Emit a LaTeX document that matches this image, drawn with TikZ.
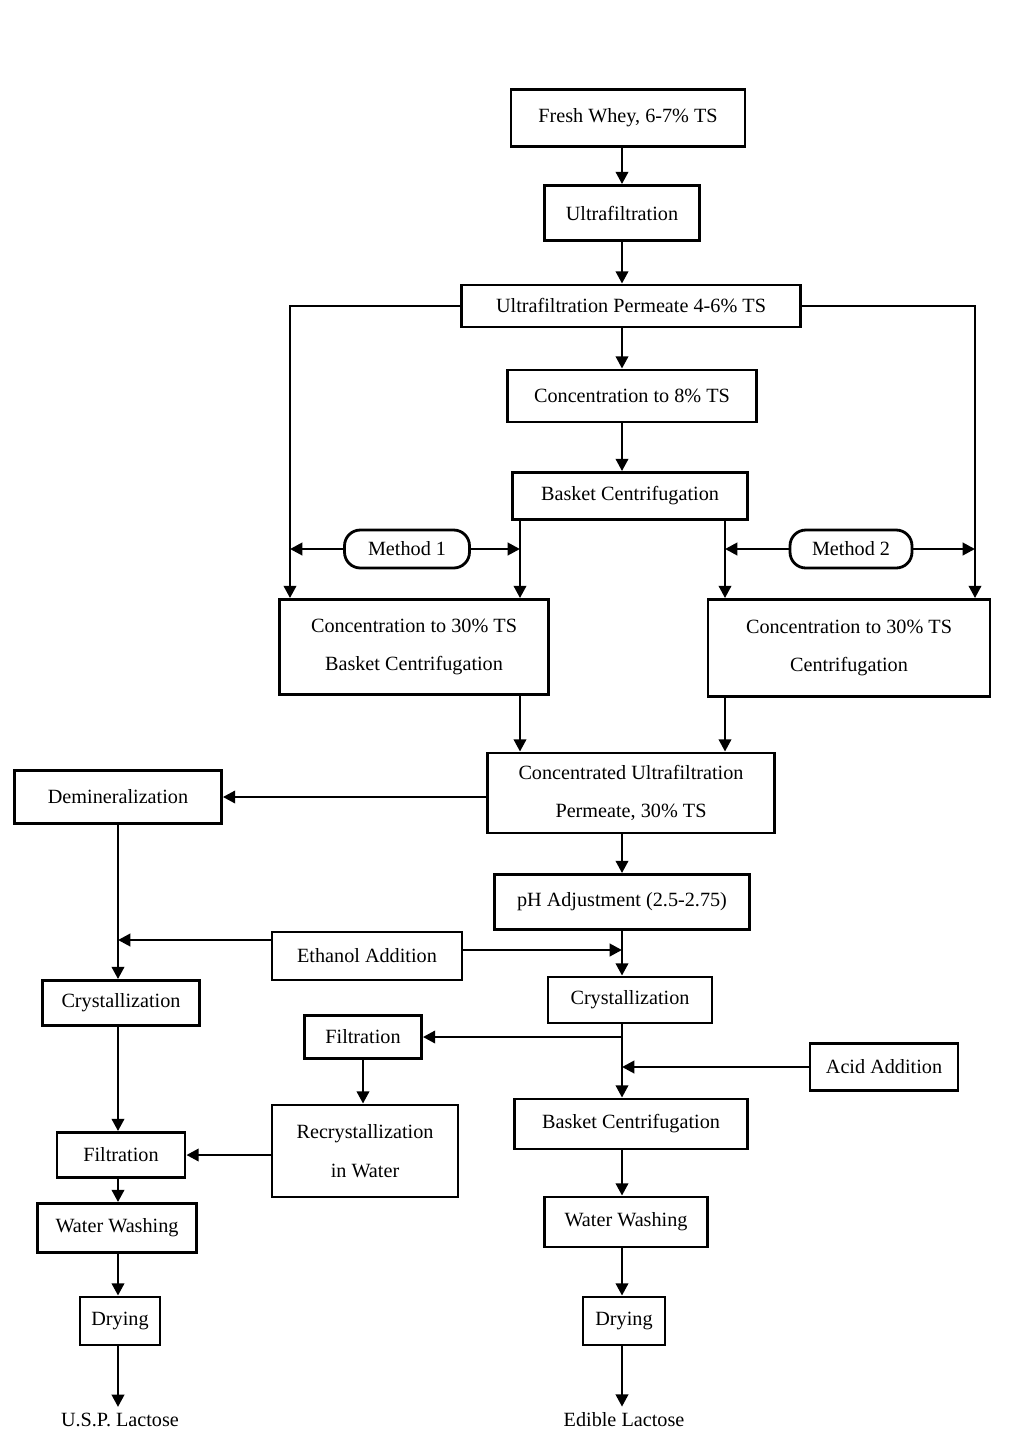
\documentclass[tikz,border=0pt]{standalone}
\usepackage{fontspec}
\setmainfont{Liberation Serif}
\usetikzlibrary{arrows.meta,positioning}
\tikzset{
  box/.style={draw=black, line width=1.6pt, fill=white, inner sep=0pt, align=center,
    font=\fontsize{11.5}{13}\selectfont},
  method/.style={box, rounded corners=9pt},
  arrow/.style={line width=1.6pt, -{Triangle[length=7pt,width=7pt]}},
  line/.style={line width=1.6pt},
  product/.style={font=\fontsize{11.5}{13}\selectfont}
}
\begin{document}
\begin{tikzpicture}[x=0.02cm,y=-0.02cm]
  \useasboundingbox (0,0) rectangle (1012,1450);

  % main column
  \node[box, minimum width=4.68cm, minimum height=1.14cm] (fresh) at (628,118) {Fresh Whey, 6-7\% TS};
  \node[box, minimum width=3.1cm, minimum height=1.1cm] (ultra) at (622,213) {Ultrafiltration};
  \node[box, minimum width=6.78cm, minimum height=0.84cm] (perm) at (631,306) {Ultrafiltration Permeate 4-6\% TS};
  \node[box, minimum width=4.98cm, minimum height=1.04cm] (conc8) at (632,396) {Concentration to 8\% TS};
  \node[box, minimum width=4.7cm, minimum height=0.94cm] (basket) at (630,496) {Basket Centrifugation};

  % methods
  \node[method, minimum width=2.5cm, minimum height=0.76cm] (meth1) at (407,549) {Method 1};
  \node[method, minimum width=2.44cm, minimum height=0.76cm] (meth2) at (851,549) {Method 2};
  \node[box, minimum width=5.38cm, minimum height=1.9cm] (conca) at (414,647) {Concentration to 30\% TS\\[9pt]Basket Centrifugation};
  \node[box, minimum width=5.64cm, minimum height=1.94cm] (concb) at (849,648) {Concentration to 30\% TS\\[9pt]Centrifugation};
  \node[box, minimum width=5.74cm, minimum height=1.6cm] (concuf) at (631,793) {Concentrated Ultrafiltration\\[9pt]Permeate, 30\% TS};

  % left branch
  \node[box, minimum width=4.14cm, minimum height=1.06cm] (demin) at (118,797) {Demineralization};
  \node[box, minimum width=3.14cm, minimum height=0.9cm] (crystl) at (121,1003) {Crystallization};
  \node[box, minimum width=2.56cm, minimum height=0.9cm] (filtl) at (121,1155) {Filtration};
  \node[box, minimum width=3.18cm, minimum height=0.98cm] (washl) at (117,1228) {Water Washing};
  \node[box, minimum width=1.6cm, minimum height=0.96cm] (dryl) at (120,1321) {Drying};
  \node[product] (usp) at (120,1420) {U.S.P. Lactose};

  % middle
  \node[box, minimum width=3.8cm, minimum height=0.96cm] (ethanol) at (367,956) {Ethanol Addition};
  \node[box, minimum width=2.34cm, minimum height=0.86cm] (filtm) at (363,1037) {Filtration};
  \node[box, minimum width=3.72cm, minimum height=1.84cm] (recryst) at (365,1151) {Recrystallization\\[9pt]in Water};

  % right branch
  \node[box, minimum width=5.1cm, minimum height=1.1cm] (ph) at (622,902) {pH Adjustment (2.5-2.75)};
  \node[box, minimum width=3.28cm, minimum height=0.92cm] (crystr) at (630,1000) {Crystallization};
  \node[box, minimum width=2.96cm, minimum height=0.94cm] (acid) at (884,1067) {Acid Addition};
  \node[box, minimum width=4.66cm, minimum height=1.0cm] (basket2) at (631,1124) {Basket Centrifugation};
  \node[box, minimum width=3.26cm, minimum height=1.0cm] (washr) at (626,1222) {Water Washing};
  \node[box, minimum width=1.64cm, minimum height=0.96cm] (dryr) at (624,1321) {Drying};
  \node[product] (edible) at (624,1420) {Edible Lactose};

  % helper points
  \coordinate (jl) at (290,549);
  \coordinate (jr) at (975,549);
  \coordinate (ja) at (520,549);
  \coordinate (jb) at (725,549);
  \coordinate (je) at (118,940);
  \coordinate (jf) at (622,950);
  \coordinate (jg) at (622,1037);
  \coordinate (jh) at (622,1067);

  % connections
  \draw[arrow] (fresh.south -| ultra) -- (ultra.north);
  \draw[arrow] (ultra.south) -- (perm.north -| ultra);
  \draw[arrow] (perm.south -| ultra) -- (conc8.north -| ultra);
  \draw[arrow] (conc8.south -| ultra) -- (basket.north -| ultra);
  \draw[arrow] (perm.west) -| (conca.north -| jl);
  \draw[arrow] (perm.east) -| (concb.north -| jr);
  \draw[arrow] (basket.south -| ja) -- (conca.north -| ja);
  \draw[arrow] (basket.south -| jb) -- (concb.north -| jb);
  \draw[arrow] (meth1.west) -- (jl);
  \draw[arrow] (meth1.east) -- (ja);
  \draw[arrow] (meth2.west) -- (jb);
  \draw[arrow] (meth2.east) -- (jr);
  \draw[arrow] (conca.south -| ja) -- (concuf.north -| ja);
  \draw[arrow] (concb.south -| jb) -- (concuf.north -| jb);
  \draw[arrow] (concuf.west |- demin) -- (demin.east);
  \draw[arrow] (concuf.south -| ph) -- (ph.north);
  \draw[arrow] (ph.south) -- (crystr.north -| ph);
  \draw[arrow] (demin.south -| je) -- (crystl.north -| je);
  \draw[arrow] (ethanol.west |- je) -- (je);
  \draw[arrow] (ethanol.east |- jf) -- (jf);
  \draw[line] (crystr.south -| jg) -- (jg);
  \draw[arrow] (jg) -- (filtm.east);
  \draw[arrow] (jg) -- (basket2.north -| jg);
  \draw[arrow] (acid.west) -- (jh);
  \draw[arrow] (filtm.south) -- (recryst.north -| filtm);
  \draw[arrow] (recryst.west |- filtl) -- (filtl.east);
  \draw[arrow] (crystl.south -| je) -- (filtl.north -| je);
  \draw[arrow] (filtl.south -| je) -- (washl.north -| je);
  \draw[arrow] (washl.south -| je) -- (dryl.north -| je);
  \draw[arrow] (dryl.south -| je) -- (usp.north -| je);
  \draw[arrow] (basket2.south -| ph) -- (washr.north -| ph);
  \draw[arrow] (washr.south -| ph) -- (dryr.north -| ph);
  \draw[arrow] (dryr.south -| ph) -- (edible.north -| ph);
\end{tikzpicture}
\end{document}
